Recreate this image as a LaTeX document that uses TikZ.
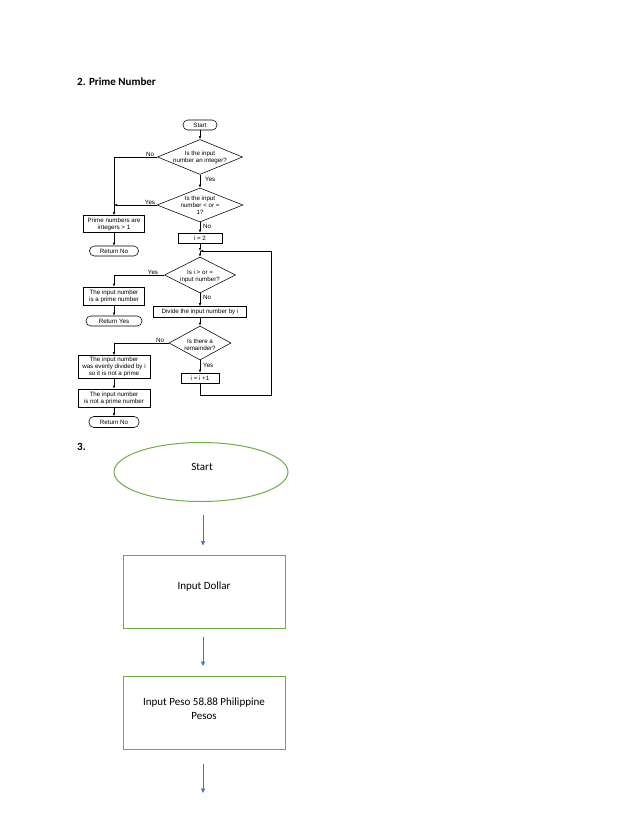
\documentclass[tikz,border=0pt]{standalone}
\usepackage{fontspec}
\setmainfont{Carlito}
\newfontfamily\arialf{Liberation Sans}
\usetikzlibrary{shapes.geometric,arrows.meta}
\definecolor{wgreen}{HTML}{70AD47}
\definecolor{wblue}{HTML}{4472C4}
\begin{document}
\begin{tikzpicture}[x=1pt,y=-1pt,
  small/.style={font=\arialf\fontsize{6.2}{7.2}\selectfont},
  fl/.style={small, draw=black, line width=0.55pt, align=center, inner sep=0pt},
  term/.style={fl, rounded corners=4.8pt},
  dia/.style={fl, diamond},
  ftxt/.style={small, inner sep=0pt, align=center},
  con/.style={line width=0.55pt},
  arr/.style={con, -{Latex[length=3pt,width=2.4pt]}},
  big/.style={font=\fontsize{11}{14}\selectfont, inner sep=0pt, align=center},
  gbox/.style={draw=wgreen, line width=1pt, minimum width=162pt, minimum height=73pt, inner sep=0pt},
  barrow/.style={draw=wblue, line width=0.6pt, -{Triangle[length=4.5pt,width=4pt]}, fill=wblue}
]
\useasboundingbox (0,0) rectangle (638,826);
\fill[white] (0,0) rectangle (638,826);

% headings
\node[big, font=\bfseries\fontsize{11}{14}\selectfont, anchor=west] (h2) at (77,82) {2. Prime Number};
\node[big, font=\bfseries\fontsize{11}{14}\selectfont, anchor=west] (h3) at (77,447) {3.};

% ---------- prime number flowchart ----------
\node[term, minimum width=34pt, minimum height=10pt] (s1) at (200,125) {Start};
\node[dia, minimum width=85pt, minimum height=35pt] (d1) at (200,157) {};
\node[ftxt] (d1t) at (200,157.5) {Is the input\\number an integer?};
\node[dia, minimum width=86pt, minimum height=34pt] (d2) at (200,205) {};
\node[ftxt] (d2t) at (200,205.5) {Is the input\\number {<} or =\\1?};
\node[fl, minimum width=61pt, minimum height=17pt] (pb) at (114,224) {Prime numbers are\\integers {>} 1};
\node[term, minimum width=49pt, minimum height=10pt] (rn1) at (114,251) {Return No};
\node[fl, minimum width=44pt, minimum height=10pt] (i2) at (200,238) {i = 2};
\coordinate (jn) at (200,251);
\node[dia, minimum width=71pt, minimum height=36pt] (d3) at (200,275) {};
\node[ftxt] (d3t) at (200,276) {Is i {>} or =\\input number?};
\node[fl, minimum width=61pt, minimum height=18pt] (ip) at (114,296) {The input number\\is a prime number};
\node[term, minimum width=56pt, minimum height=10pt] (ry) at (114,321) {Return Yes};
\node[fl, minimum width=93pt, minimum height=11pt] (dv) at (200,312) {Divide the input number by i};
\node[dia, minimum width=62pt, minimum height=34pt] (d4) at (200,343) {};
\node[ftxt] (d4t) at (200,344.5) {Is there a\\remainder?};
\node[fl, minimum width=72pt, minimum height=23pt] (ev) at (114,367) {The input number\\was evenly divided by i\\so it is not a prime};
\node[fl, minimum width=38pt, minimum height=10pt] (ii) at (200,378) {i = i +1};
\node[fl, minimum width=72pt, minimum height=18pt] (np) at (114,398) {The input number\\is not a prime number};
\node[term, minimum width=50pt, minimum height=11pt] (rn2) at (114,422) {Return No};
\coordinate (lb) at (200,395);
\coordinate (lr) at (271,395);
\coordinate (lt) at (271,251);
\coordinate (k1) at (114,157);
\coordinate (k2) at (114,205);
\coordinate (k3) at (114,275);
\coordinate (k4) at (114,343);

\draw[arr] (s1) -- (d1.north);
\draw[arr] (d1.south) -- (d2.north);
\draw[con] (d1.west) -- (k1);
\draw[arr] (k1) -- (pb.north);
\draw[arr] (d2.west) -- (k2);
\draw[arr] (pb) -- (rn1);
\draw[arr] (d2.south) -- (i2.north);
\draw[arr] (i2.south) -- (jn);
\draw[arr] (jn) -- (d3.north);
\draw[con] (d3.west) -- (k3);
\draw[arr] (k3) -- (ip.north);
\draw[arr] (ip) -- (ry);
\draw[arr] (d3.south) -- (dv.north);
\draw[arr] (dv.south) -- (d4.north);
\draw[con] (d4.west) -- (k4);
\draw[arr] (k4) -- (ev.north);
\draw[arr] (ev) -- (np);
\draw[arr] (np) -- (rn2);
\draw[arr] (d4.south) -- (ii.north);
\draw[con] (ii.south) -- (lb) -- (lr) -- (lt);
\draw[arr] (lt) -- (jn);

\node[ftxt, anchor=south] (l1) at (150,157) {No};
\node[ftxt, anchor=west] (l2) at (205,179) {Yes};
\node[ftxt, anchor=south] (l3) at (150,205) {Yes};
\node[ftxt, anchor=west] (l4) at (203,226) {No};
\node[ftxt, anchor=south] (l5) at (153,275) {Yes};
\node[ftxt, anchor=west] (l6) at (203,297) {No};
\node[ftxt, anchor=south] (l7) at (160,343) {No};
\node[ftxt, anchor=west] (l8) at (203,365) {Yes};

% ---------- currency flowchart ----------
\node[draw=wgreen, line width=1pt, ellipse, minimum width=174pt, minimum height=59pt, inner sep=0pt] (st) at (201,472) {};
\node[big] (stt) at (202,467) {Start};
\node[gbox] (dol) at (204,591.5) {};
\node[big] (dolt) at (204,587) {Input Dollar};
\node[gbox] (pes) at (204,713) {};
\node[big] (pest) at (204,709) {Input Peso 58.88 Philippine\\Pesos};
\coordinate (endc) at (203,793);

\draw[barrow, shorten <=13pt, shorten >=9pt] (st.south -| 203,0) -- (dol.north -| 203,0);
\draw[barrow, shorten <=8pt, shorten >=10pt] (dol.south -| 203,0) -- (pes.north -| 203,0);
\draw[barrow, shorten <=14pt] (pes.south -| endc) -- (endc);
\end{tikzpicture}
\end{document}
